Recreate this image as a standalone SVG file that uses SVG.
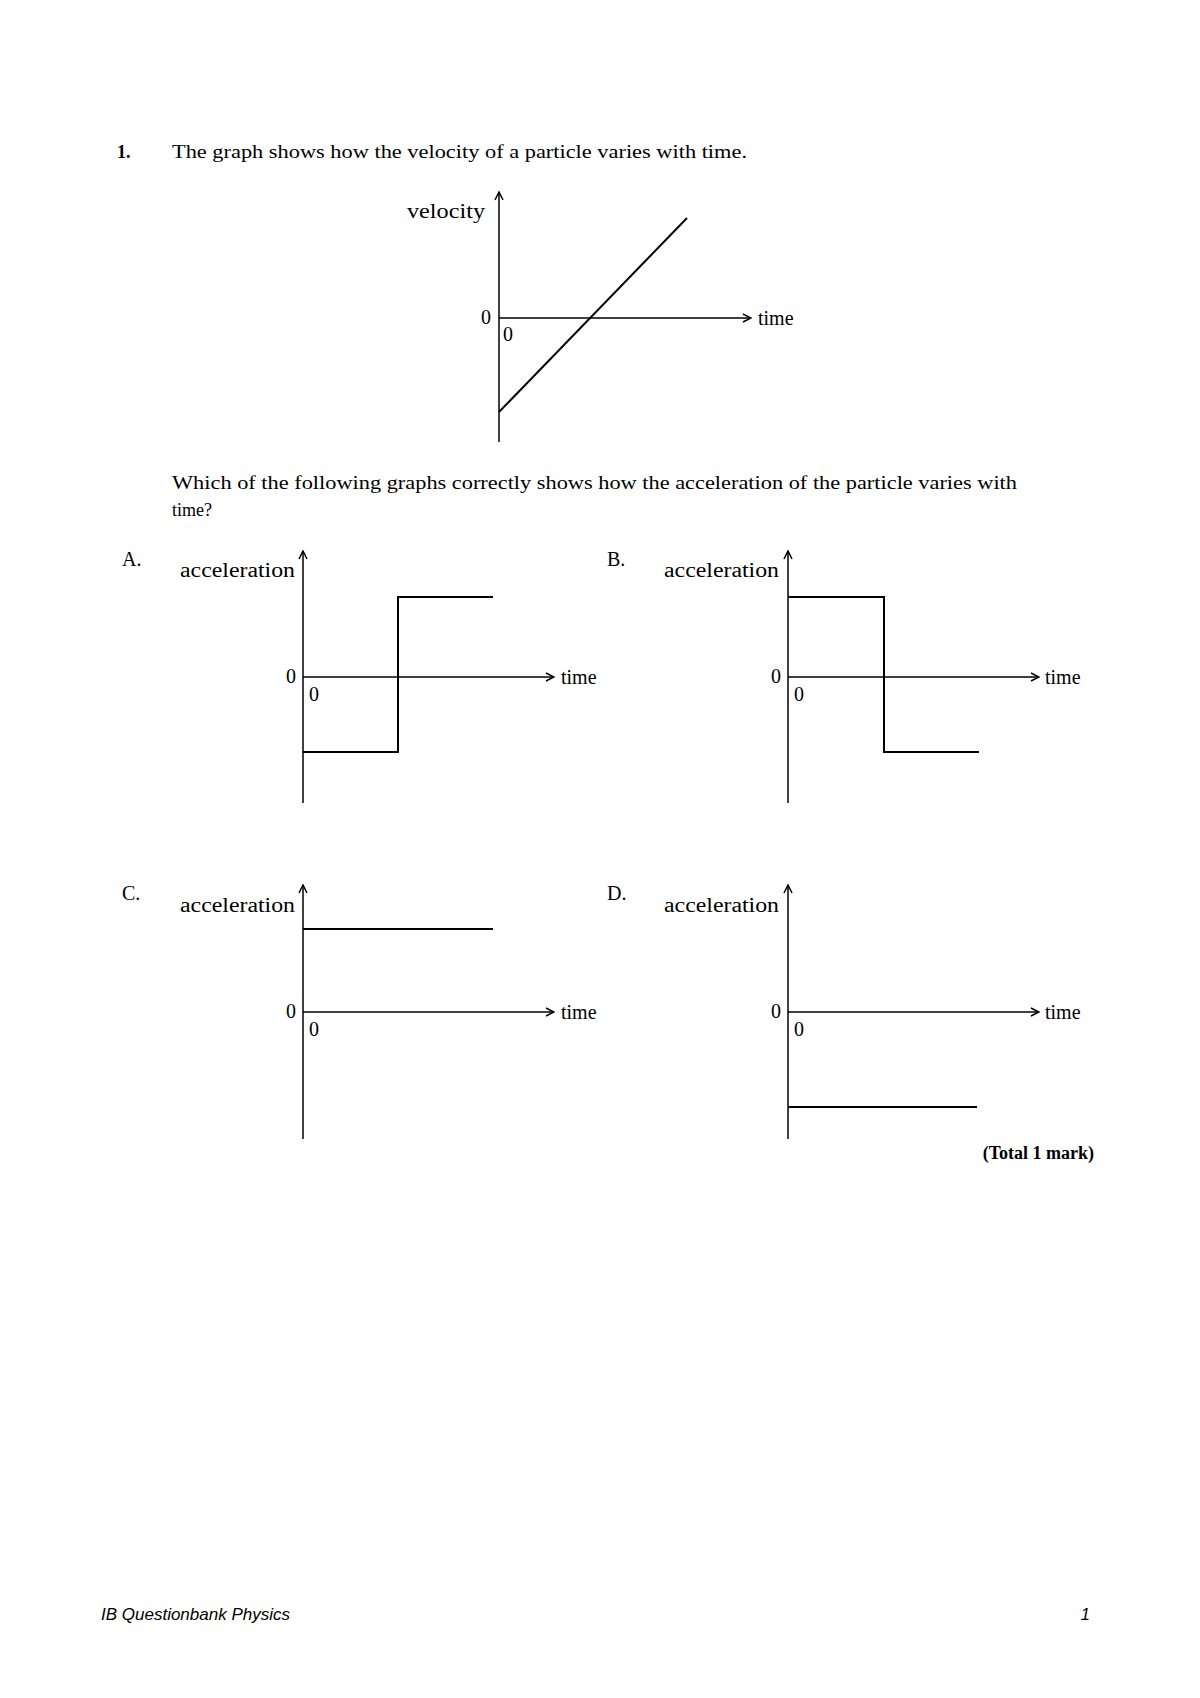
<svg xmlns="http://www.w3.org/2000/svg" width="1200" height="1698" viewBox="0 0 1200 1698">
<style>
text{font-family:"Liberation Serif","Times New Roman",serif;fill:#000}
.b{font-size:18px}
.l{font-size:20px}
.ax{stroke:#000;stroke-width:1.5;fill:none}
.g{stroke:#000;stroke-width:2;fill:none}
.f{font-family:"Liberation Sans",Arial,sans-serif;font-style:italic;font-size:17px}
</style>
<defs>
<marker id="ar" markerWidth="10" markerHeight="10" refX="9" refY="5" orient="auto" markerUnits="userSpaceOnUse">
<path d="M1,1 L9,5 L1,9" fill="none" stroke="#000" stroke-width="1.5"/>
</marker>
</defs>
<rect width="1200" height="1698" fill="#fff"/>
<text x="117" y="158" class="b" font-weight="bold">1.</text>
<text x="172" y="158" class="b" textLength="575" lengthAdjust="spacingAndGlyphs">The graph shows how the velocity of a particle varies with time.</text>
<g id="velocity-graph" transform="translate(0,-3)">
<line class="ax" x1="499" y1="445" x2="499" y2="195" marker-end="url(#ar)"/>
<line class="ax" x1="499" y1="321" x2="751" y2="321" marker-end="url(#ar)"/>
<line class="g" x1="499" y1="415" x2="687" y2="221"/>
<text x="407" y="221" class="l" textLength="78" lengthAdjust="spacingAndGlyphs">velocity</text>
<text x="481" y="327" class="l">0</text>
<text x="503" y="344" class="l">0</text>
<text x="758" y="328" class="l">time</text>
</g>
<text x="172" y="489" class="b" textLength="845" lengthAdjust="spacingAndGlyphs">Which of the following graphs correctly shows how the acceleration of the particle varies with</text>
<text x="172" y="516" class="b">time?</text>
<g id="graph-A" transform="translate(0,-4)">
<text x="122" y="570" class="l">A.</text>
<text x="180" y="581" class="l" textLength="115" lengthAdjust="spacingAndGlyphs">acceleration</text>
<line class="ax" x1="303" y1="807" x2="303" y2="555" marker-end="url(#ar)"/>
<line class="ax" x1="303" y1="681" x2="554" y2="681" marker-end="url(#ar)"/>
<polyline class="g" points="303,756 398,756 398,601 493,601"/>
<text x="286" y="687" class="l">0</text>
<text x="309" y="705" class="l">0</text>
<text x="561" y="688" class="l">time</text>
</g>
<g id="graph-B" transform="translate(0,-4)">
<text x="607" y="570" class="l">B.</text>
<text x="664" y="581" class="l" textLength="115" lengthAdjust="spacingAndGlyphs">acceleration</text>
<line class="ax" x1="788" y1="807" x2="788" y2="555" marker-end="url(#ar)"/>
<line class="ax" x1="788" y1="681" x2="1039" y2="681" marker-end="url(#ar)"/>
<polyline class="g" points="788,601 884,601 884,756 979,756"/>
<text x="771" y="687" class="l">0</text>
<text x="794" y="705" class="l">0</text>
<text x="1045" y="688" class="l">time</text>
</g>
<g id="graph-C" transform="translate(0,-7)">
<text x="122" y="907" class="l">C.</text>
<text x="180" y="919" class="l" textLength="115" lengthAdjust="spacingAndGlyphs">acceleration</text>
<line class="ax" x1="303" y1="1146" x2="303" y2="892" marker-end="url(#ar)"/>
<line class="ax" x1="303" y1="1019" x2="554" y2="1019" marker-end="url(#ar)"/>
<line class="g" x1="303" y1="936" x2="493" y2="936"/>
<text x="286" y="1025" class="l">0</text>
<text x="309" y="1043" class="l">0</text>
<text x="561" y="1026" class="l">time</text>
</g>
<g id="graph-D" transform="translate(0,-7)">
<text x="607" y="907" class="l">D.</text>
<text x="664" y="919" class="l" textLength="115" lengthAdjust="spacingAndGlyphs">acceleration</text>
<line class="ax" x1="788" y1="1146" x2="788" y2="892" marker-end="url(#ar)"/>
<line class="ax" x1="788" y1="1019" x2="1039" y2="1019" marker-end="url(#ar)"/>
<line class="g" x1="788" y1="1114" x2="977" y2="1114"/>
<text x="771" y="1025" class="l">0</text>
<text x="794" y="1043" class="l">0</text>
<text x="1045" y="1026" class="l">time</text>
</g>
<text x="1094" y="1159" class="b" font-weight="bold" text-anchor="end">(Total 1 mark)</text>
<text x="101" y="1620" class="f">IB Questionbank Physics</text>
<text x="1090" y="1620" class="f" text-anchor="end">1</text>
</svg>
